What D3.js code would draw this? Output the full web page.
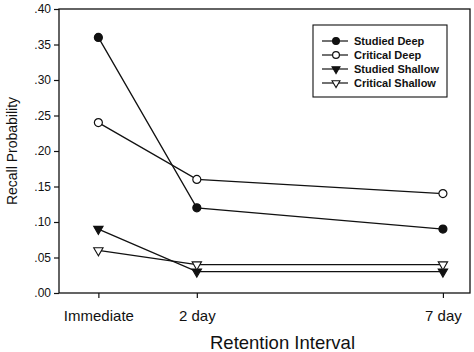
<!DOCTYPE html>
<html>
<head>
<meta charset="utf-8">
<script src="https://cdn.jsdelivr.net/npm/d3@7"></script>
<style>
  body { margin: 0; background: #fff; }
  text { font-family: "Liberation Sans", Arial, sans-serif; fill: #111; }
</style>
</head>
<body>
<svg id="chart" width="474" height="352"></svg>
<script>
// retention interval in days (Immediate = 0)
var days = [0, 2, 7];
var dayLabels = ["Immediate", "2 day", "7 day"];
var yTicks = [0, .05, .10, .15, .20, .25, .30, .35, .40];

var studiedDeep = [.36, .12, .09];
var criticalDeep = [.24, .16, .14];
var studiedShallow = [.09, .03, .03];
var criticalShallow = [.06, .04, .04];

var series = [
  {name: "Studied Deep", values: studiedDeep, shape: "circle", fill: "#111"},
  {name: "Critical Deep", values: criticalDeep, shape: "circle", fill: "#fff"},
  {name: "Studied Shallow", values: studiedShallow, shape: "tri", fill: "#111"},
  {name: "Critical Shallow", values: criticalShallow, shape: "tri", fill: "#fff"}
];

var svg = d3.select("#chart");
var pLeft = 59, pRight = 470, pTop = 9, pBottom = 293;

var x = d3.scaleLinear().domain([-0.8, 7.55]).range([pLeft, pRight]);
var y = d3.scaleLinear().domain([0, .40]).range([pBottom, pTop]);

// frame
svg.append("rect")
  .attr("x", pLeft).attr("y", pTop)
  .attr("width", pRight - pLeft).attr("height", pBottom - pTop)
  .attr("fill", "none").attr("stroke", "#111").attr("stroke-width", 1.3);

var fmt = function(d) { return d3.format(".2f")(d).replace(/^0/, ""); };

var yAxis = svg.append("g")
  .attr("transform", "translate(" + pLeft + ",0)")
  .call(d3.axisLeft(y).tickValues(yTicks).tickFormat(fmt).tickSize(5).tickSizeOuter(0));
yAxis.select(".domain").remove();
yAxis.selectAll("line").attr("stroke", "#111").attr("stroke-width", 1.2);
yAxis.selectAll("text").attr("font-size", 12).attr("fill", "#111")
  .style("font-family", "'Liberation Sans', Arial, sans-serif");

var xAxis = svg.append("g")
  .attr("transform", "translate(0," + pBottom + ")")
  .call(d3.axisBottom(x).tickValues(days)
    .tickFormat(function(d, i) { return dayLabels[i]; }).tickSize(5).tickSizeOuter(0).tickPadding(12));
xAxis.select(".domain").remove();
xAxis.selectAll("line").attr("stroke", "#111").attr("stroke-width", 1.2);
xAxis.selectAll("text").attr("font-size", 15).attr("fill", "#111")
  .style("font-family", "'Liberation Sans', Arial, sans-serif");

// axis titles
svg.append("text")
  .attr("x", (pLeft + pRight) / 2 + 18).attr("y", 349)
  .attr("text-anchor", "middle").attr("font-size", 18.5)
  .text("Retention Interval");
svg.append("text")
  .attr("transform", "translate(17," + ((pTop + pBottom) / 2) + ") rotate(-90)")
  .attr("text-anchor", "middle").attr("font-size", 14)
  .text("Recall Probability");

var line = d3.line()
  .x(function(d, i) { return x(days[i]); })
  .y(function(d) { return y(d); });

function marker(g, s, k) {
  if (s.shape == "circle") {
    g.append("circle").attr("r", 4 * k)
      .attr("fill", s.fill).attr("stroke", "#111").attr("stroke-width", 1.2);
  } else {
    g.append("path").attr("d", d3.symbol().type(d3.symbolTriangle).size(38 * k * k))
      .attr("transform", "rotate(180)")
      .attr("fill", s.fill).attr("stroke", "#111").attr("stroke-width", 1.1);
  }
}

series.forEach(function(s) {
  svg.append("path")
    .datum(s.values)
    .attr("d", line)
    .attr("fill", "none").attr("stroke", "#111").attr("stroke-width", 1.3);
  s.values.forEach(function(v, i) {
    var g = svg.append("g").attr("transform", "translate(" + x(days[i]) + "," + y(v) + ")");
    marker(g, s, 1);
  });
});

// legend
var lg = svg.append("g").attr("transform", "translate(313,25)");
lg.append("rect").attr("width", 134).attr("height", 72)
  .attr("fill", "#fff").attr("stroke", "#111").attr("stroke-width", 1.1);
series.forEach(function(s, i) {
  var row = lg.append("g").attr("transform", "translate(0," + (16 + i * 14) + ")");
  row.append("line").attr("x1", 9).attr("x2", 35)
    .attr("stroke", "#111").attr("stroke-width", 1.2);
  var m = row.append("g").attr("transform", "translate(23,0)");
  marker(m, s, 0.85);
  row.append("text").attr("x", 41).attr("y", 4)
    .attr("font-size", 11).attr("font-weight", "bold").text(s.name);
});
</script>
</body>
</html>
